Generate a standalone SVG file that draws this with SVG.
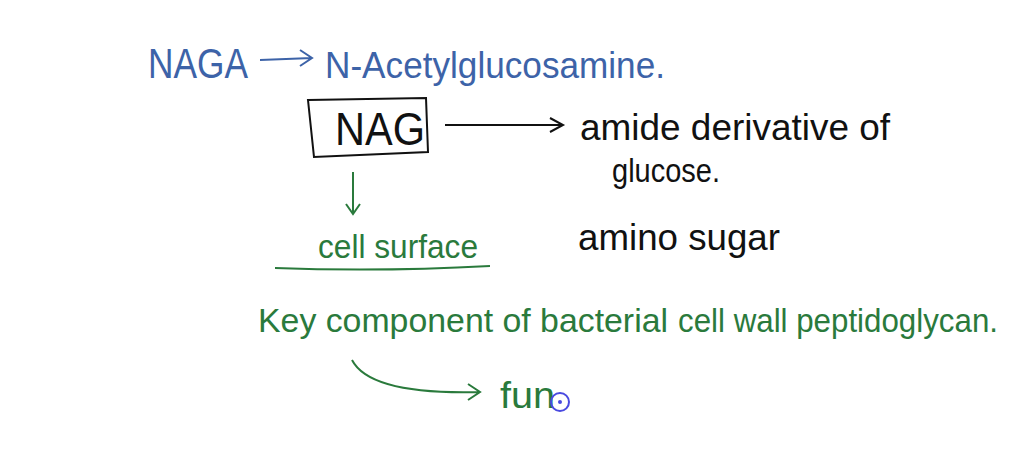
<svg xmlns="http://www.w3.org/2000/svg" width="1024" height="470" viewBox="0 0 1024 470">
<style>
.b{fill:#3d63a8;font-family:"Liberation Sans",sans-serif}
.k{fill:#111;font-family:"Liberation Sans",sans-serif}
.g{fill:#2a7a3c;font-family:"Liberation Sans",sans-serif}
.lk{stroke:#111;stroke-width:2;fill:none}
.lg{stroke:#2a7a3c;stroke-width:2;fill:none}
.lb{stroke:#3d63a8;stroke-width:2;fill:none}
</style>
<rect width="1024" height="470" fill="#fff"/>
<text class="b" x="148" y="78" font-size="42" textLength="100" lengthAdjust="spacingAndGlyphs">NAGA</text>
<path class="lb" d="M260 60 L312 58 M300 50 L312 58 L300 66"/>
<text class="b" x="325" y="78" font-size="36" textLength="340" lengthAdjust="spacingAndGlyphs">N-Acetylglucosamine.</text>
<g id="nag">
<path class="lk" d="M308 100 L426 98 L428 152 L314 157 Z"/>
<text class="k" x="335" y="145" font-size="46" textLength="90" lengthAdjust="spacingAndGlyphs">NAG</text>
</g>
<g id="connectors">
<path class="lk" d="M445 125 L563 125 M550 118 L563 125 L550 132"/>
<path class="lg" d="M353 172 L353 214 M346 204 L353 214 L360 204"/>
<path class="lg" d="M352 360 Q370 395 480 392 M468 384 L480 392 L468 400"/>
</g>
<text class="k" x="580" y="140" font-size="36" textLength="310" lengthAdjust="spacingAndGlyphs">amide derivative of</text>
<text class="k" x="612" y="182" font-size="34" textLength="108" lengthAdjust="spacingAndGlyphs">glucose.</text>
<text class="k" x="578" y="250" font-size="36" textLength="202" lengthAdjust="spacingAndGlyphs">amino sugar</text>
<text class="g" x="318" y="258" font-size="34" textLength="160" lengthAdjust="spacingAndGlyphs">cell surface</text>
<path class="lg" d="M275 268 Q380 272 490 266"/>
<text class="g" x="258" y="332" font-size="34" textLength="410" lengthAdjust="spacingAndGlyphs">Key component of bacterial</text>
<text class="g" x="678" y="332" font-size="34" textLength="320" lengthAdjust="spacingAndGlyphs">cell wall peptidoglycan.</text>
<text class="g" x="500" y="408" font-size="36" textLength="55" lengthAdjust="spacingAndGlyphs">fun</text>
<circle cx="560" cy="402" r="9" fill="none" stroke="#4a4ae0" stroke-width="2"/>
<circle cx="560" cy="402" r="2" fill="#4a4ae0"/>
</svg>
